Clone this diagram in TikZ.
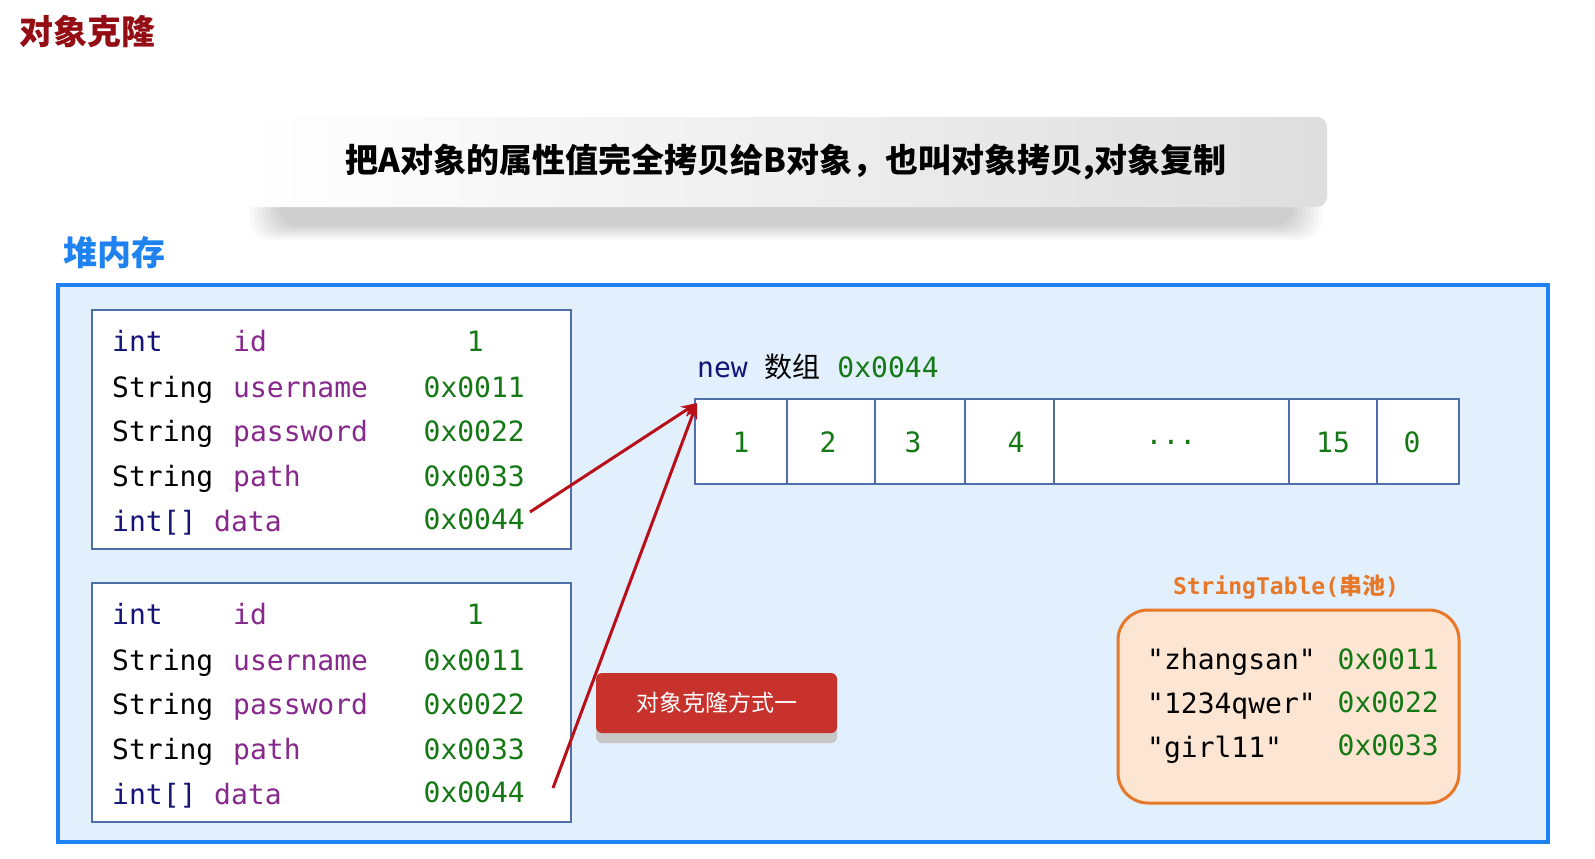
\documentclass[tikz,border=0pt]{standalone}
\usepackage{fontspec}
\setmonofont{DejaVu Sans Mono}
\newfontfamily\cjk{Noto Sans CJK SC}
\usetikzlibrary{arrows.meta,shadows,calc}
\definecolor{kw}{RGB}{20,20,120}
\definecolor{fld}{RGB}{135,40,140}
\definecolor{hx}{RGB}{20,120,20}
\definecolor{bordb}{RGB}{80,110,170}
\definecolor{heapb}{RGB}{30,130,240}
\definecolor{heapf}{RGB}{226,239,252}
\definecolor{arr}{RGB}{185,15,25}
\definecolor{orng}{RGB}{230,120,40}
\definecolor{peach}{RGB}{253,229,212}
\definecolor{btnred}{RGB}{200,50,45}
\tikzset{
 code/.style={font=\ttfamily\fontsize{28}{30}\selectfont,anchor=base west,inner sep=0},
 codeR/.style={font=\ttfamily\fontsize{28}{30}\selectfont,anchor=base east,inner sep=0,text=hx},
 objbox/.style={draw=bordb,line width=2.5pt,fill=white},
 cell/.style={draw=bordb,line width=2.5pt,fill=white},
 cellt/.style={font=\ttfamily\fontsize{28}{30}\selectfont,text=hx},
 redarrow/.style={draw=arr,line width=3pt,-{Stealth[length=16pt,width=12pt]}}
}
\begin{document}
\begin{tikzpicture}[x=1pt,y=-1pt]
\fill[white] (0,0) rectangle (1595,859);
\node[anchor=west,text=arr!80!black,font=\cjk\bfseries\fontsize{34}{38}\selectfont] (title) at (16,32) {对象克隆};
% banner soft shadow
\foreach \d in {0,4,...,28}{
 \fill[black,opacity=0.025,rounded corners=20pt] (250+\d,135+\d/2) rectangle (1322-\d,240-\d/2);
}
\node[draw=none,rounded corners=10pt,minimum width=1082pt,minimum height=90pt,
  left color=white,right color=black!13,
  font=\cjk\bfseries\fontsize{33}{36}\selectfont] (banner) at (786,162) {把A对象的属性值完全拷贝给B对象，也叫对象拷贝,对象复制};
\node[anchor=west,text=heapb,font=\cjk\bfseries\fontsize{34}{38}\selectfont] (heap) at (60,253) {堆内存};
\draw[draw=heapb,line width=4pt,fill=heapf] (58,285) rectangle (1548,842);
% object boxes
\foreach \yo/\nm in {0/A,273/B}{
 \draw[objbox] (92,310+\yo) rectangle (571,549+\yo);
 \node[code,text=kw] at (112,351+\yo) {int};
 \node[code,text=fld] at (233,351+\yo) {id};
 \node[codeR] at (484,351+\yo) {1};
 \node[code] at (112,397+\yo) {String};
 \node[code,text=fld] at (233,397+\yo) {username};
 \node[codeR] at (525,397+\yo) {0x0011};
 \node[code] at (112,441+\yo) {String};
 \node[code,text=fld] at (233,441+\yo) {password};
 \node[codeR] at (525,441+\yo) {0x0022};
 \node[code] at (112,486+\yo) {String};
 \node[code,text=fld] at (233,486+\yo) {path};
 \node[codeR] at (525,486+\yo) {0x0033};
 \node[code,text=kw] at (112,531+\yo) {int[]};
 \node[code,text=fld] at (214,531+\yo) {data};
 \node[codeR] at (525,529+\yo) {0x0044};
}
\coordinate (srcA) at (530,512);
\coordinate (srcB) at (553,788);
% array
\node[code,text=kw] (newlbl) at (697,377) {new \textcolor{black}{\cjk 数组} \textcolor{hx}{0x0044}};
\draw[cell] (695,399) rectangle (1459,484);
\foreach \x in {787,875,965,1054,1289,1377}{\draw[bordb,line width=2.5pt] (\x,399) -- (\x,484);}
\node[cellt] at (741,442) {1};
\node[cellt] at (828,442) {2};
\node[cellt] at (913,442) {3};
\node[cellt] at (1016,442) {4};
\node[cellt] at (1171,442) {...};
\node[cellt] at (1333,442) {15};
\node[cellt] at (1412,442) {0};
\coordinate (arrtgt) at (697,403);
% string table
\node[text=orng,font=\ttfamily\bfseries\fontsize{23}{26}\selectfont] (stlbl) at (1286,587) {StringTable(\textcolor{orng}{\cjk\bfseries 串池})};
\draw[draw=orng,line width=3pt,fill=peach,rounded corners=30pt] (1118,610) rectangle (1459,803);
\node[code] at (1147,669) {"zhangsan"};
\node[codeR] at (1439,669) {0x0011};
\node[code] at (1147,713) {"1234qwer"};
\node[codeR] at (1439,712) {0x0022};
\node[code] at (1147,757) {"girl11"};
\node[codeR] at (1439,755) {0x0033};
% button
\fill[black!22,rounded corners=6pt] (596,680) rectangle (837,743);
\node[fill=btnred,rounded corners=6pt,minimum width=241pt,minimum height=60pt,text=white,
 font=\cjk\fontsize{23}{26}\selectfont] (btn) at (716.5,703) {对象克隆方式一};
% arrows
\draw[redarrow] (srcA) -- (arrtgt);
\draw[redarrow] (srcB) -- (arrtgt);
\pgfresetboundingbox
\useasboundingbox (0,0) rectangle (1595,859);
\end{tikzpicture}
\end{document}
